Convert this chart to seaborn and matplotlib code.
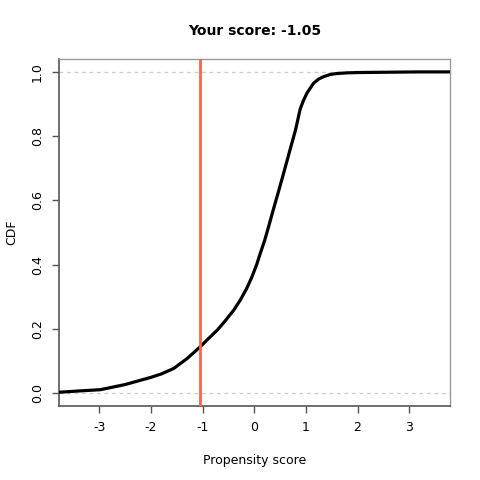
import numpy as np
import pandas as pd
import matplotlib
matplotlib.use("Agg")
import matplotlib.pyplot as plt
import seaborn as sns

# values
score = [-3.78, -3.4, -2.98, -2.5, -2.01, -1.8, -1.56, -1.3, -1.05, -0.9, -0.72,
         -0.6, -0.5, -0.4, -0.27, -0.15, -0.045, 0.05, 0.116, 0.2, 0.277, 0.37,
         0.47, 0.586, 0.7, 0.8, 0.89, 0.95, 1.02, 1.15, 1.25, 1.34, 1.47, 1.6,
         1.8, 2.0, 2.6, 3.2, 3.78]
cdf = [0.003, 0.007, 0.011, 0.027, 0.049, 0.06, 0.077, 0.108, 0.144, 0.168, 0.196,
       0.218, 0.238, 0.258, 0.29, 0.325, 0.362, 0.402, 0.435, 0.475, 0.518, 0.572,
       0.628, 0.695, 0.762, 0.82, 0.885, 0.91, 0.934, 0.965, 0.978, 0.985, 0.992, 0.995,
       0.997, 0.998, 0.999, 1.0, 1.0]
your_score = -1.05
x_ticks = [-3, -2, -1, 0, 1, 2, 3]
y_ticks = [0.0, 0.2, 0.4, 0.6, 0.8, 1.0]

df = pd.DataFrame({"score": score, "cdf": cdf})

sns.set_style("white")
plt.rcParams['font.family'] = ['DejaVu Sans']
plt.rcParams['text.color'] = 'black'
plt.rcParams['axes.labelcolor'] = 'black'

fig = plt.figure(figsize=(4.8, 4.8), dpi=100)
ax = fig.add_axes([0.123, 0.154, 0.8145, 0.723])

# dashed reference lines at 0 and 1
for h in (0, 1):
    ax.axhline(h, color="#cccccc", linestyle=(0, (3, 3)), linewidth=0.9, zorder=1)

sns.lineplot(data=df, x="score", y="cdf", color="black", linewidth=2.3, ax=ax, zorder=3)
ax.axvline(your_score, color="tomato", linewidth=2, zorder=4)

ax.set_xlim(-3.78, 3.79)
ax.set_ylim(-0.04, 1.04)
ax.set_xticks(x_ticks)
ax.set_xticklabels([str(t) for t in x_ticks])
ax.set_yticks(y_ticks)
ax.set_yticklabels([f"{t:.1f}" for t in y_ticks], rotation=90, va="center")
ax.tick_params(axis="both", direction="out", length=5, width=1, colors="#555555",
               labelcolor="black", labelsize=9, pad=6, left=True, bottom=True)

for side in ("left", "bottom"):
    ax.spines[side].set_color("#555555")
    ax.spines[side].set_linewidth(1.2)
for side in ("top", "right"):
    ax.spines[side].set_color("#999999")
    ax.spines[side].set_linewidth(1.0)

ax.set_xlabel("Propensity score", fontsize=9, labelpad=14)
ax.set_ylabel("CDF", fontsize=9, labelpad=9)
ax.set_title(f"Your score: {your_score}", fontsize=10, fontweight="bold", pad=17)

fig.savefig("out.png", dpi=100)
